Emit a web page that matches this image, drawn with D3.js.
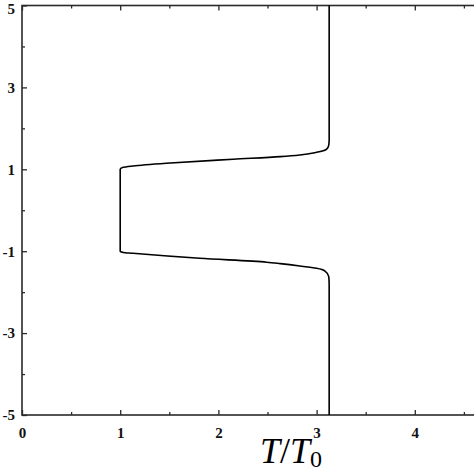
<!DOCTYPE html>
<html>
<head>
<meta charset="utf-8">
<script src="https://cdn.jsdelivr.net/npm/d3@7"></script>
<style>
  html, body { margin: 0; padding: 0; background: #fff; }
  svg { display: block; }
</style>
</head>
<body>
<svg id="chart" width="474" height="474"></svg>
<script>
// position (vertical axis) and temperature ratio T/T0
const positionValues = [-5, -1.83, -1.62, -1.484, -1.418, -1.361, -1.303, -1.268, -1.173, -1.051, -1.03, -1.0,
                        1.0, 1.049, 1.081, 1.147, 1.245, 1.31, 1.349, 1.415, 1.488, 1.593, 1.72, 5];
const temperatureValues = [3.128, 3.128, 3.124, 3.086, 3.0, 2.83, 2.63, 2.49, 1.81, 1.13, 1.03, 1.0,
                           1.0, 1.03, 1.13, 1.47, 2.15, 2.63, 2.83, 3.0, 3.10, 3.124, 3.128, 3.128];

const xMajorTicks = [0, 1, 2, 3, 4, 5];
const xLabels = ["0", "1", "2", "3", "4", ""];
const xMinorTicks = [0.5, 1.5, 2.5, 3.5, 4.5];
const yMajorTicks = [-5, -3, -1, 1, 3, 5];
const yLabels = ["-5", "-3", "-1", "1", "3", "5"];
const yMinorTicks = [-4, -2, 0, 2, 4];

const svg = d3.select("#chart");

// the frame runs past the right edge of the picture, as in the original
const margin = { top: 5.5, left: 22, bottom: 59 };
const width = 474, height = 474;

const x = d3.scaleLinear().domain([0, 5]).range([margin.left, margin.left + 5 * 98.2]);
const y = d3.scaleLinear().domain([-5, 5]).range([height - margin.bottom, margin.top]);

const axisColor = "#2a2a2a";

// frame lines
svg.append("rect")
  .attr("x", x(0))
  .attr("y", y(5))
  .attr("width", x(5) - x(0))
  .attr("height", y(-5) - y(5))
  .attr("fill", "none")
  .attr("stroke", axisColor)
  .attr("stroke-width", 1.6);

// axes with inward ticks
const styleAxis = g => {
  g.select(".domain").remove();
  g.selectAll(".tick line").attr("stroke", axisColor).attr("stroke-width", 1.3);
  g.selectAll("text")
    .attr("fill", "#111")
    .style("font-family", "'Liberation Serif', 'Times New Roman', serif")
    .style("font-weight", "bold")
    .style("font-size", "15px");
};

svg.append("g")
  .attr("transform", `translate(0, ${y(-5)})`)
  .call(d3.axisBottom(x).tickValues(xMajorTicks).tickFormat((d, i) => xLabels[i])
    .tickSizeInner(-5).tickSizeOuter(0).tickPadding(12))
  .call(styleAxis);

svg.append("g")
  .attr("transform", `translate(0, ${y(-5)})`)
  .call(d3.axisBottom(x).tickValues(xMinorTicks).tickFormat("").tickSizeInner(-3).tickSizeOuter(0))
  .call(styleAxis);

svg.append("g")
  .attr("transform", `translate(0, ${y(5)})`)
  .call(d3.axisTop(x).tickValues(xMajorTicks).tickFormat("").tickSizeInner(-5).tickSizeOuter(0))
  .call(styleAxis);

svg.append("g")
  .attr("transform", `translate(0, ${y(5)})`)
  .call(d3.axisTop(x).tickValues(xMinorTicks).tickFormat("").tickSizeInner(-3).tickSizeOuter(0))
  .call(styleAxis);

const yAxisG = svg.append("g")
  .attr("transform", `translate(${x(0)}, 0)`)
  .call(d3.axisLeft(y).tickValues(yMajorTicks).tickFormat((d, i) => yLabels[i])
    .tickSizeInner(-5).tickSizeOuter(0).tickPadding(7))
  .call(styleAxis);

// top label sits a little lower so it stays inside the picture
yAxisG.selectAll(".tick text").filter(d => d === 5).attr("dy", "0.55em");

svg.append("g")
  .attr("transform", `translate(${x(0)}, 0)`)
  .call(d3.axisLeft(y).tickValues(yMinorTicks).tickFormat("").tickSizeInner(-3).tickSizeOuter(0))
  .call(styleAxis);

// the profile
const points = positionValues.map((p, i) => ({ p: p, t: temperatureValues[i] }));

const line = d3.line()
  .x(d => x(d.t))
  .y(d => y(d.p))
  .curve(d3.curveMonotoneY);

svg.append("path")
  .datum(points)
  .attr("d", line)
  .attr("fill", "none")
  .attr("stroke", "#000")
  .attr("stroke-width", 1.6);

// axis title
const title = svg.append("text")
  .attr("x", 260)
  .attr("y", 463)
  .style("font-family", "'Liberation Serif', 'Times New Roman', serif")
  .style("font-size", "36px")
  .attr("fill", "#000");
title.append("tspan").style("font-style", "italic").text("T");
title.append("tspan").text("/");
title.append("tspan").style("font-style", "italic").text("T");
title.append("tspan").attr("dy", 4).style("font-size", "24px").text("0");
</script>
</body>
</html>
